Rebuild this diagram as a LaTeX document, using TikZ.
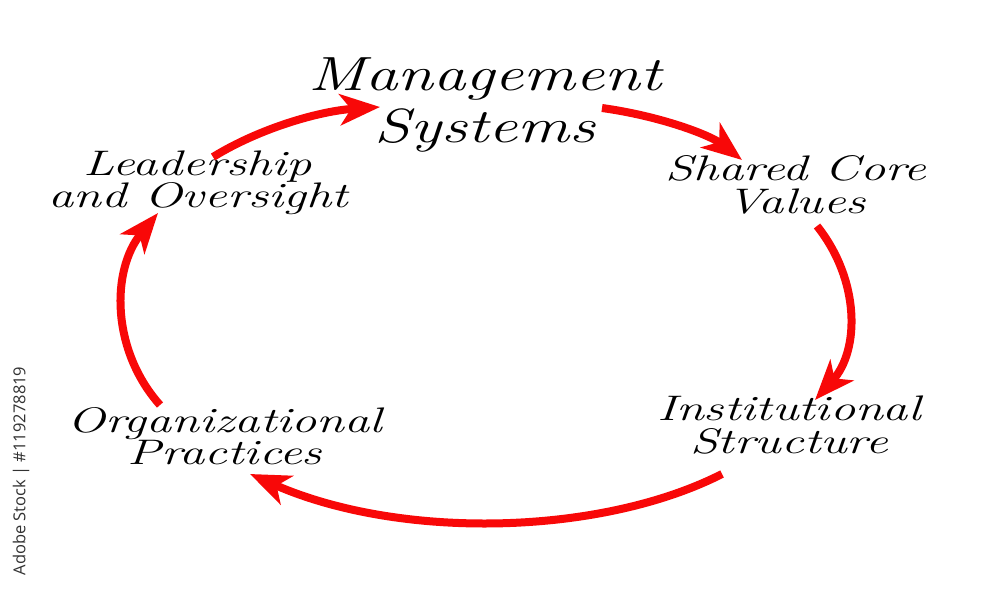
\documentclass[tikz,border=0pt]{standalone}
\usepackage{fontspec}
\usetikzlibrary{arrows.meta}
\newfontfamily\scr{Latin Modern Roman}[FakeStretch=1.35]
\newfontfamily\scrs{Latin Modern Roman}[FakeStretch=1.42]
\newfontfamily\wmfont{Open Sans}
\definecolor{arrred}{RGB}{248,8,8}
\definecolor{wmgray}{RGB}{50,50,50}
\tikzset{
  big/.style={font=\scr\itshape\fontsize{48}{52}\selectfont, align=center, inner sep=0pt},
  lbl/.style={font=\scrs\itshape\fontsize{35.5}{32.5}\selectfont, align=center, inner sep=0pt},
  cyc/.style={draw=arrred, line width=8pt, -{Stealth[length=40pt, width=31pt, inset=11pt]}},
}
\begin{document}
\begin{tikzpicture}[x=1pt, y=-1pt]
\fill[white] (0,0) rectangle (1000,594);
\useasboundingbox (0,0) rectangle (1000,594);

\node[big] (ms) at (485,105) {Management\\Systems};
\node[lbl] (sv) at (796,185) {Shared Core\\Values};
\node[lbl] (is) at (789,425) {Institutional\\Structure};
\node[lbl] (op) at (225,436) {Organizational\\Practices};
\node[lbl] (lo) at (198,183) {Leadership\\and Oversight};

\node[font=\wmfont\fontsize{16.5}{16.5}\selectfont, text=wmgray, rotate=90, inner sep=0pt] (wm) at (21,471) {Adobe Stock | \#119278819};

\coordinate (a1s) at (213,157);
\coordinate (a1e) at (380,107);
\coordinate (a2s) at (602,108);
\coordinate (a2e) at (742,160);
\coordinate (a3s) at (817,226);
\coordinate (a3e) at (815,400);
\coordinate (a4s) at (722,474);
\coordinate (a4e) at (250,474);
\coordinate (a5s) at (160,405);
\coordinate (a5e) at (158,213);

\draw[cyc] (a1s) .. controls (260,128) and (320,111) .. (a1e);
\draw[cyc] (a2s) .. controls (660,116) and (710,135) .. (a2e);
\draw[cyc] (a3s) .. controls (860,280) and (860,350) .. (a3e);
\draw[cyc] (a4s) .. controls (600,536) and (400,540) .. (a4e);
\draw[cyc] (a5s) .. controls (111,350) and (111,270) .. (a5e);
\end{tikzpicture}
\end{document}
